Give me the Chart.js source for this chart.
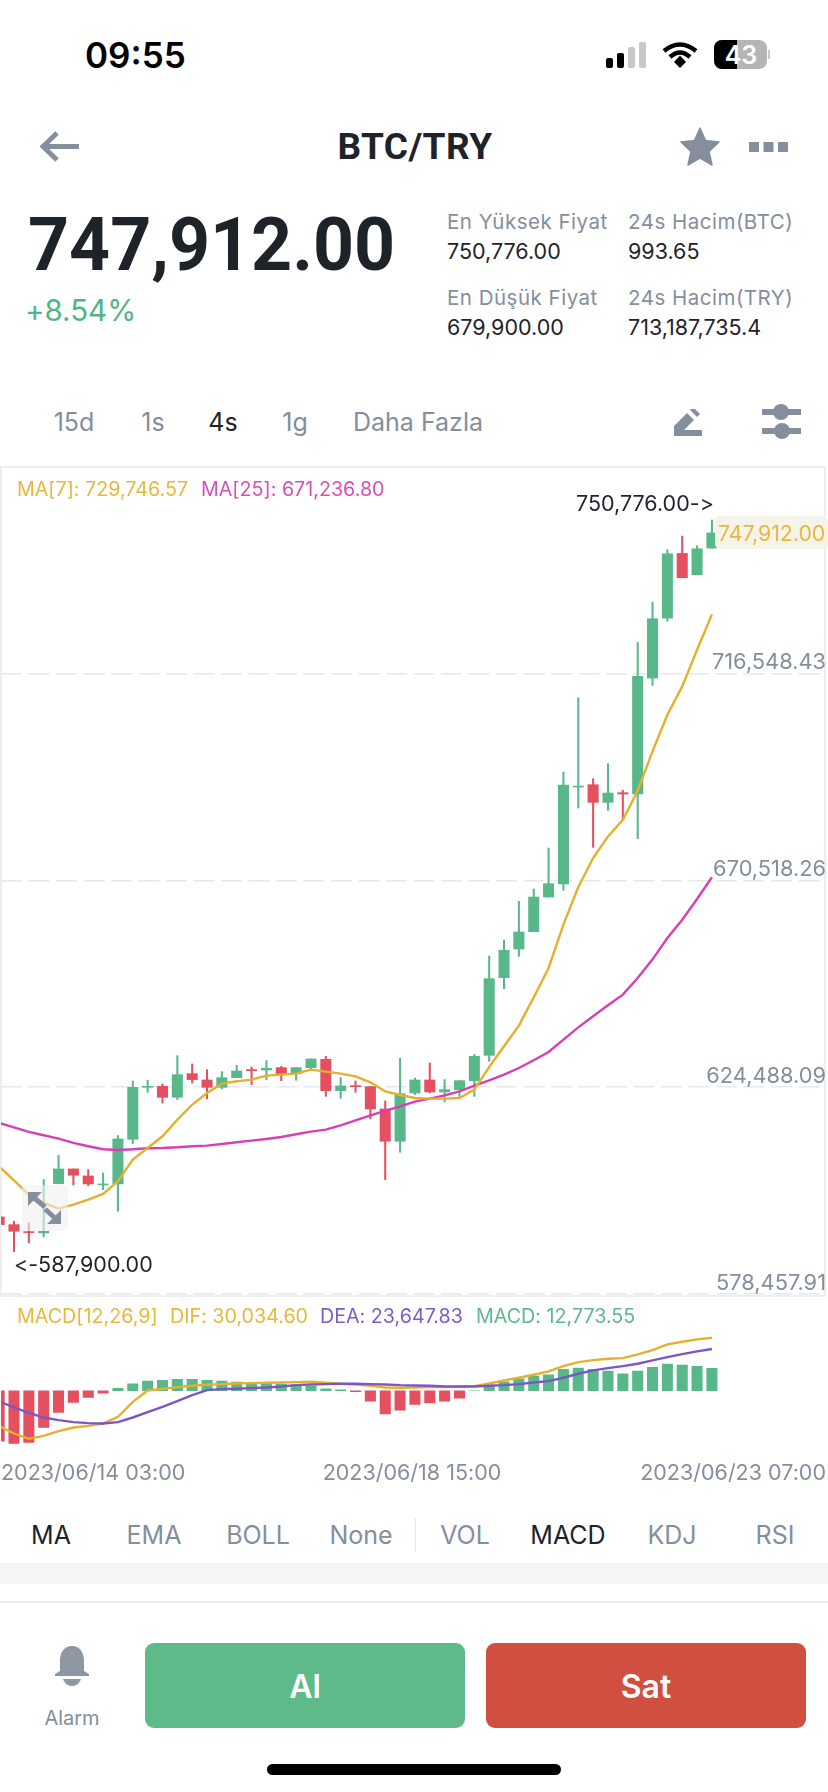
<!DOCTYPE html>
<html>
<head>
<meta charset="utf-8">
<script src="https://cdn.jsdelivr.net/npm/chart.js@4/dist/chart.umd.min.js"></script>
<style>
    html, body { margin: 0; padding: 0; background: #fff; }
    #page { position: relative; width: 828px; height: 1792px; overflow: hidden; font-family: Inter, sans-serif; color: #1e2329; font-variant-ligatures: none; font-feature-settings: 'calt' 0; }
    #page div, #page span { position: absolute; white-space: nowrap; }
    #page svg, #page canvas { position: absolute; }
    .gray { color: #848e9c; }
    .lbl { font-size: 20.5px; letter-spacing: 0.5px; color: #848e9c; }
    .val { font-size: 21.5px; color: #1e2329; }
    .tab { font-size: 25px; color: #848e9c; }
    .leg { font-size: 19.7px; }
    .dark { color: #1e2329; }
    .mid { transform: translate(-50%, -50%); }
    .lmid { transform: translateY(-50%); }
</style>
</head>
<body>
<div id="page">
    <!-- status bar -->
    <div class="lmid" style="left:85px;top:55px;font:600 35px Inter;color:#000">09:55</div>
    <svg style="left:606px;top:42px" width="40" height="27">
        <rect x="0" y="16" width="7" height="10" rx="2" fill="#000"/>
        <rect x="11" y="11" width="7" height="15" rx="2" fill="#000"/>
        <rect x="22" y="5" width="7" height="21" rx="2" fill="#c8c8c8"/>
        <rect x="33" y="0" width="7" height="26" rx="2" fill="#c8c8c8"/>
    </svg>
    <svg style="left:662px;top:41px" width="36" height="28" viewBox="0 0 36 28">
        <path d="M2 10 Q18 -3 34 10" fill="none" stroke="#000" stroke-width="4.5"/>
        <path d="M8 16 Q18 7 28 16" fill="none" stroke="#000" stroke-width="4.5"/>
        <path d="M12 21 L18 14.5 L24 21 L18 27 Z" fill="#000"/>
    </svg>
    <svg style="left:714px;top:40px" width="56" height="30">
        <rect x="0" y="0" width="53" height="29" rx="8" fill="#b5b5b5"/>
        <path d="M8 0 H23 V29 H8 A8 8 0 0 1 0 21 V8 A8 8 0 0 1 8 0 Z" fill="#000"/>
        <rect x="54" y="10" width="2" height="9" fill="#c8c8c8"/>
    </svg>
    <div class="mid" style="left:741px;top:55px;font:600 25px Inter;color:#fff">43</div>

    <!-- header -->
    <svg style="left:40px;top:131px" width="40" height="31" viewBox="0 0 40 31">
        <path d="M17 2 L3 15.5 L17 29 M3 15.5 H39" fill="none" stroke="#848e9c" stroke-width="5"/>
    </svg>
    <div class="mid" style="left:415px;top:146px;font:700 37px Roboto;letter-spacing:0.4px;color:#1e2329">BTC/TRY</div>
    <svg style="left:680px;top:127px" width="40" height="39" viewBox="0 0 40 39">
        <path d="M20 1 L25.5 13.5 L39 15 L29 24.5 L32 38 L20 31 L8 38 L11 24.5 L1 15 L14.5 13.5 Z" fill="#848e9c" stroke="#848e9c" stroke-width="1.5" stroke-linejoin="round"/>
    </svg>
    <svg style="left:749px;top:142px" width="40" height="10">
        <rect x="0" y="0" width="10" height="10" fill="#848e9c"/>
        <rect x="14.5" y="0" width="10" height="10" fill="#848e9c"/>
        <rect x="29" y="0" width="10" height="10" fill="#848e9c"/>
    </svg>

    <div style="left:28px;top:200px;font:700 75px Roboto;color:#1e2329;transform:scaleX(0.955);transform-origin:left top">747,912.00</div>
    <div class="lmid" style="left:25px;top:310px;font-size:29.5px;color:#4fb584">+8.54%</div>

    <div class="lbl lmid" style="left:447px;top:221px">En Yüksek Fiyat</div>
    <div class="val lmid" style="left:447px;top:251px">750,776.00</div>
    <div class="lbl lmid" style="left:628px;top:221px">24s Hacim(BTC)</div>
    <div class="val lmid" style="left:628px;top:251px">993.65</div>
    <div class="lbl lmid" style="left:447px;top:297px">En Düşük Fiyat</div>
    <div class="val lmid" style="left:447px;top:327px">679,900.00</div>
    <div class="lbl lmid" style="left:628px;top:297px">24s Hacim(TRY)</div>
    <div class="val lmid" style="left:628px;top:327px">713,187,735.4</div>

    <div class="tab mid" style="left:74px;top:422px">15d</div>
    <div class="tab mid" style="left:153px;top:422px">1s</div>
    <div class="tab dark mid" style="left:223px;top:422px">4s</div>
    <div class="tab mid" style="left:295px;top:422px">1g</div>
    <div class="tab mid" style="left:418px;top:422px">Daha Fazla</div>
    <svg style="left:672px;top:409px" width="31" height="28" viewBox="0 0 31 28">
        <path d="M2 17 L15 4 L22 11 L12 21 H30 V27 H2 Z" fill="#848e9c"/>
        <path d="M18 1 L21 -2 L28 5 L25 8 Z" fill="#848e9c"/>
    </svg>
    <svg style="left:762px;top:403px" width="39" height="37" viewBox="0 0 39 37">
        <rect x="0" y="6" width="39" height="6" fill="#848e9c"/>
        <circle cx="19" cy="9" r="8" fill="#848e9c"/>
        <rect x="0" y="25" width="39" height="6" fill="#848e9c"/>
        <circle cx="20" cy="28" r="8" fill="#848e9c"/>
    </svg>

    <!-- chart frame + charts -->
    <div style="left:0;top:466px;width:822px;height:827px;border:2px solid #eeeef0"></div>
    <canvas id="priceChart" width="828" height="828" style="left:0;top:467px"></canvas>
    <canvas id="macdChart" width="828" height="202" style="left:0;top:1294px"></canvas>

    <div class="lmid leg" style="left:17px;top:489px;color:#e8b83c">MA[7]: 729,746.57</div>
    <div class="lmid leg" style="left:201px;top:489px;color:#d94fb6">MA[25]: 671,236.80</div>
    <div class="lmid" style="left:576px;top:503px;font-size:21.5px;color:#1e2329">750,776.00-&gt;</div>
    <div style="left:715px;top:516px;width:113px;height:33px;background:#f6f3ea;border-radius:5px"></div>
    <div class="lmid" style="left:718px;top:533px;font-size:21.3px;color:#e8b83c">747,912.00</div>
    <div class="lmid" style="left:14px;top:1264px;font-size:21.5px;color:#1e2329">&lt;-587,900.00</div>

    <!-- expand icon over the chart -->
    <svg style="left:22px;top:1185px" width="46" height="46" viewBox="0 0 46 46">
        <rect x="0" y="0" width="46" height="46" rx="4" fill="#f0f0f0" fill-opacity="0.6"/>
        <path d="M6 7 H20 L6 21 Z M39 39 H25 L39 25 Z" fill="#848e9c"/>
        <path d="M10 11 L23 22 M35 35 L23 24" stroke="#848e9c" stroke-width="5" fill="none"/>
    </svg>

    <div class="lmid leg" style="left:17px;top:1316px;color:#e8b83c">MACD[12,26,9]</div>
    <div class="lmid leg" style="left:170px;top:1316px;color:#e8b83c">DIF: 30,034.60</div>
    <div class="lmid leg" style="left:320px;top:1316px;color:#7e5cc8">DEA: 23,647.83</div>
    <div class="lmid leg" style="left:476px;top:1316px;color:#5bb98b">MACD: 12,773.55</div>

    <!-- indicator tabs -->
    <div class="tab dark mid" style="left:51px;top:1535px">MA</div>
    <div class="tab mid" style="left:154px;top:1535px">EMA</div>
    <div class="tab mid" style="left:258px;top:1535px">BOLL</div>
    <div class="tab mid" style="left:361px;top:1535px">None</div>
    <div style="left:415px;top:1518px;width:1px;height:34px;background:#e6e6e8"></div>
    <div class="tab mid" style="left:465px;top:1535px">VOL</div>
    <div class="tab dark mid" style="left:568px;top:1535px">MACD</div>
    <div class="tab mid" style="left:672px;top:1535px">KDJ</div>
    <div class="tab mid" style="left:775px;top:1535px">RSI</div>
    <div style="left:0;top:1563px;width:828px;height:21px;background:#f5f5f5"></div>
    <div style="left:0;top:1601px;width:828px;height:2px;background:#eeeef0"></div>

    <!-- bottom bar -->
    <svg style="left:54px;top:1646px" width="36" height="41" viewBox="0 0 36 41">
        <path d="M18 0 C9 0 6 8 6 15 V25 L1 28 V30 H35 V28 L30 25 V15 C30 8 27 0 18 0 Z" fill="#8f97a3"/>
        <path d="M9 33 H27 C25 38 22 40 18 40 C14 40 11 38 9 33 Z" fill="#8f97a3"/>
    </svg>
    <div class="mid gray" style="left:72px;top:1718px;font-size:20px">Alarm</div>
    <div style="left:145px;top:1643px;width:320px;height:85px;background:#5eba89;border-radius:9px"></div>
    <div class="mid" style="left:305px;top:1686px;font-size:32px;font-weight:600;color:#fff">Al</div>
    <div style="left:486px;top:1643px;width:320px;height:85px;background:#d14f40;border-radius:9px"></div>
    <div class="mid" style="left:646px;top:1686px;font-size:32px;font-weight:600;color:#fff">Sat</div>
    <div style="left:267px;top:1764px;width:294px;height:11px;background:#000;border-radius:6px"></div>
</div>

<script>
// Candles, oldest first (the first one is cut by the left edge)
const opens = [595616,593909,592351,592054,603035,606299,604741,602738,602960,612902,624476,624698,622250,627517,626108,624476,626627,628408,628333,628853,627517,628853,630707,623734,624846,624624,619653,612457,623214,626108,623437,623956,625959,631598,648886,655266,659124,666840,669734,691325,691845,687913,690064,689767,715586,728940,743333,738584,744520];
const closes = [593909,592425,592129,592425,606299,604889,602960,602960,612976,624476,624698,622250,627295,626182,624476,626627,628111,628185,628704,627369,628853,630782,623734,624772,624624,619653,612457,623066,626108,623437,623956,625959,631375,648664,654970,659050,666840,669808,691771,691548,687913,689990,689767,715956,728791,743258,737917,744371,747912];
const highs = [596135,594651,594280,603925,609341,606299,606151,605409,613718,625885,626034,625217,631524,629669,628408,627962,629372,629001,630411,629149,628853,630782,631375,626627,625885,624624,621434,630930,626553,629891,626182,625959,631820,653708,657270,665876,668621,677746,694664,711208,693180,696519,690584,723524,732501,744149,747190,745039,750776];
const lows = [593538,587900,589829,591164,603035,602738,602589,601699,596877,611937,623363,620989,621730,625440,621953,624105,626627,625069,626182,625959,626034,628556,622472,622027,623363,617427,603925,610008,622843,623214,621211,622101,622472,630262,646436,653634,659124,666840,668324,686651,677897,686132,684055,679826,713953,728272,737917,738584,744520];

const ma7 = [606892,603777,600586,598732,597470,598361,599473,600735,603554,608376,610973,613570,617279,620618,623214,625292,625811,626182,627072,627295,627517,628408,627962,627517,626924,625588,623585,622769,622101,621953,621953,622101,623956,629001,633601,638201,644507,651036,660682,669066,675520,680343,684052,690500,699264,707425,713731,721892,729746.57];
const ma25 = [616537,615573,614534,613792,613050,612086,611344,610676,610528,610676,610899,610973,611121,611344,611492,611863,612234,612605,612976,613421,614015,614608,615053,616018,617131,618244,619208,620247,621285,621953,622695,623585,624846,626034,627295,628779,630485,632340,635085,637830,640278,642726,645100,648810,652967,657715,661795,666395,671236.8];

const macdBars = [-28539,-29862,-29295,-20790,-12285,-6615,-3780,-1323,1323,3969,5481,5859,6426,6426,5859,5481,4914,4347,3969,3780,3402,2646,1134,567,-567,-5859,-13041,-10962,-7749,-6804,-5859,-4158,0,3213,5103,6804,8316,9072,12096,12852,12096,11151,9639,11151,13230,15120,14553,13797,12773.55];
const dif = [-20034,-24192,-27216,-25515,-22869,-20790,-19845,-18522,-14742,-6237,189,1134,2079,2835,3402,3780,4158,4347,4536,4725,4914,5103,4536,3969,3591,2835,1890,1701,1890,2079,2079,2268,2646,4158,5859,7371,9072,10962,13986,16254,17388,18144,18522,20601,23058,26271,27783,29106,30034.6];
const dea = [-5859,-9450,-12474,-15120,-16632,-17766,-18333,-18522,-17766,-15120,-12096,-9072,-5859,-2457,378,945,1134,1512,1890,2457,3213,3591,3780,3969,3969,3780,3591,3213,3024,2835,2457,2457,2457,2835,3213,3780,4725,5481,7371,9639,11529,12852,13986,15309,17199,19089,20790,22302,23647.83];

const priceTicks = [578457.91, 624488.09, 670518.26, 716548.43];
const priceMin = 578457.91;
const priceMax = 762578.6;
const macdMin = -33642;
const macdMax = 54810;
const timeLabels = ['2023/06/14 03:00', '2023/06/18 15:00', '2023/06/23 07:00'];

const GREEN = '#58b88a';
const RED = '#e4505f';
const YELLOW = '#e6b02e';
const MAGENTA = '#d93fb5';
const PURPLE = '#7b57c6';
const AXIS_GRAY = '#848e9c';

// x range picked so the candles land where they do in the app
const xMin = 0.125;
const xMax = 55.48;

const candleColors = opens.map((o, i) => closes[i] >= o ? GREEN : RED);
const fmtPrice = v => v.toLocaleString('en-US', { minimumFractionDigits: 2, maximumFractionDigits: 2 });
const pairs = arr => arr.map((v, i) => ({ x: i, y: v }));

function lineSet(data, color, order) {
    return { type: 'line', data: pairs(data), borderColor: color, borderWidth: 2.4, pointRadius: 0, tension: 0, order };
}

// tick labels must not shrink the plot area
function noLabelPadding(axis) {
    axis.paddingLeft = 0;
    axis.paddingRight = 0;
    axis.paddingTop = 0;
    axis.paddingBottom = 0;
}

Chart.defaults.animation = false;
Chart.defaults.font.family = 'Inter, sans-serif';

new Chart(document.getElementById('priceChart'), {
    type: 'bar',
    data: {
        datasets: [
            {
                // wicks
                data: highs.map((h, i) => ({ x: i, y: [lows[i], h] })),
                backgroundColor: candleColors,
                barThickness: 1.4,
                grouped: false,
                order: 4
            },
            {
                // bodies
                data: opens.map((o, i) => ({ x: i, y: [o, closes[i]] })),
                backgroundColor: candleColors,
                barThickness: 10.4,
                grouped: false,
                order: 3
            },
            lineSet(ma25, MAGENTA, 2),
            lineSet(ma7, YELLOW, 1)
        ]
    },
    options: {
        responsive: false,
        layout: { padding: { left: 1, right: 5, top: 0, bottom: 1 } },
        plugins: { legend: { display: false }, tooltip: { enabled: false } },
        scales: {
            x: { type: 'linear', min: xMin, max: xMax, offset: false, display: false },
            y: {
                position: 'right',
                min: priceMin,
                max: priceMax,
                afterBuildTicks: axis => { axis.ticks = priceTicks.map(v => ({ value: v })); },
                afterFit: axis => {
                    noLabelPadding(axis);
                    axis.width = 0; // labels sit inside the plot
                },
                grid: { color: '#e8e8ec', lineWidth: 1.5, drawTicks: false },
                border: { display: false, dash: [21, 6.5] },
                ticks: {
                    mirror: true,
                    padding: 3,
                    labelOffset: -11,
                    color: AXIS_GRAY,
                    font: { size: 21.8 },
                    callback: v => fmtPrice(v)
                }
            }
        }
    }
});

new Chart(document.getElementById('macdChart'), {
    type: 'bar',
    data: {
        datasets: [
            {
                data: pairs(macdBars),
                backgroundColor: macdBars.map(v => v >= 0 ? GREEN : RED),
                barThickness: 10.4,
                grouped: false,
                order: 3
            },
            lineSet(dea, PURPLE, 1),
            lineSet(dif, YELLOW, 2)
        ]
    },
    options: {
        responsive: false,
        layout: { padding: { left: 1, right: 5, top: 0, bottom: 0 } },
        plugins: { legend: { display: false }, tooltip: { enabled: false } },
        scales: {
            x: {
                type: 'linear',
                min: xMin,
                max: xMax,
                offset: false,
                afterBuildTicks: axis => {
                    axis.ticks = [xMin, (xMin + xMax) / 2, xMax + 0.2].map(v => ({ value: v }));
                },
                afterFit: noLabelPadding,
                grid: { display: false, drawTicks: false },
                border: { display: false },
                ticks: {
                    autoSkip: false,
                    maxRotation: 0,
                    align: 'inner',
                    padding: 10,
                    color: AXIS_GRAY,
                    font: { size: 21.5 },
                    callback: (v, i) => timeLabels[i]
                }
            },
            y: { min: macdMin, max: macdMax, display: false }
        }
    }
});
</script>
</body>
</html>
